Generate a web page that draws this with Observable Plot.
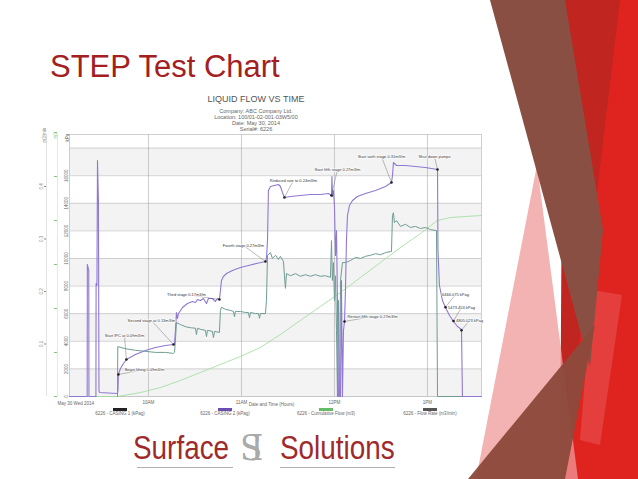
<!DOCTYPE html>
<html><head><meta charset="utf-8">
<script src="https://cdn.jsdelivr.net/npm/d3@7"></script>
<script src="https://cdn.jsdelivr.net/npm/@observablehq/plot@0.6"></script>
<style>
html,body{margin:0;padding:0;background:#fff;}
body{width:638px;height:479px;position:relative;overflow:hidden;font-family:"Liberation Sans",Arial,sans-serif;}
.abs{position:absolute;}
.ctr{position:absolute;text-align:center;white-space:nowrap;}
</style></head><body>

<div class="abs" style="left:50px;top:51px;font-size:31px;line-height:31px;color:#a3201f;white-space:nowrap;">STEP Test Chart</div>

<div class="ctr" style="left:156px;width:200px;top:94.5px;font-size:9px;line-height:9px;color:#555;">LIQUID FLOW VS TIME</div>
<div class="ctr" id="sub" style="left:156px;width:200px;top:109.2px;font-size:5.5px;line-height:5.8px;color:#666;"></div>

<div id="chart" class="abs" style="left:0;top:120px;"></div>
<div id="legend"></div>

<!-- logo -->
<div class="abs" style="left:133px;top:430px;font-size:34px;line-height:34px;color:#9e2a2b;transform:scaleX(0.82);transform-origin:left top;white-space:nowrap;">Surface</div>
<div class="abs" style="left:280px;top:430px;font-size:34px;line-height:34px;color:#9e2a2b;transform:scaleX(0.82);transform-origin:left top;white-space:nowrap;">Solutions</div>
<div class="abs" style="left:240px;top:430px;font-family:'DejaVu Serif',serif;font-size:36px;line-height:36px;letter-spacing:-13px;color:#aaaaaa;white-space:nowrap;transform:scaleX(0.9);transform-origin:left top;">SI</div>
<div class="abs" style="left:137px;top:467px;width:96px;height:1px;background:#b0b0b0;"></div>
<div class="abs" style="left:280px;top:467px;width:115px;height:1px;background:#b0b0b0;"></div>

<!-- decorative slide shapes -->
<div class="abs" style="left:598px;top:0;width:40px;height:479px;background:#dc2520;"></div>
<svg class="abs" style="left:0;top:0;overflow:visible;" width="638" height="479" viewBox="0 0 638 479">
  <path d="M563 0 L638 0 L638 479 L560 479 Z" fill="#c1251f"/>
  <path d="M620 0 L638 0 L638 479 L563 479 Z" fill="#df2420"/>
  <path d="M537 165 L578 479 L476 479 Z" fill="#f09a9a" fill-opacity="0.75"/>
  <path d="M592 290 L622 295 L600 445 L580 440 Z" fill="#f4a0a0" fill-opacity="0.22"/>
  <path d="M490 0 L565 0 L603 230 L590 367 Z" fill="#8a4f43"/>
  <path d="M468 479 L565 479 L595 325 Z" fill="#8d4a3b" fill-opacity="0.96"/>
</svg>

<script>
// ---------- axis / tick data ----------
const kpaTicks = [0, 2000, 4000, 6000, 8000, 10000, 12000, 14000, 16000];
const kpaGrid = [0, 2000, 4000, 6000, 8000, 10000, 12000, 14000, 16000, 18000];
const bandStarts = [0, 4000, 8000, 12000, 16000];
const hourTicks = [10, 11, 12, 13];
const hourLabels = ["10AM", "11AM", "12PM", "1PM"];
const flowTicks = [0.1, 0.2, 0.3, 0.4];
const cumTicks = [0, 5, 10, 15, 20, 25, 30];
const subtitleLines = ["Company:  ABC Company Ltd.", "Location:  100/01-02-001-03W5/00", "Date:  May 30, 2014", "Serial#:  6226"];
const legendNames = ["6226 - CASING 1 (kPag)", "6226 - CASING 2 (kPag)", "6226 - Cumulative Flow (m3)", "6226 - Flow Rate (m3/min)"];
const legendColors = ["#222222", "#6a4fb0", "#66bb66", "#555555"];

// secondary-axis conversions onto the kPa axis
const FLOW_K = 38043;  // kPa per (m3/min)
const CUM_K = 637.7;   // kPa per m3

// ---------- CASING 2 (kPag) ----------
const casing2Time = [9.151,9.341,9.343,9.358,9.360,9.435,9.437,9.446,9.452,9.462,9.468,9.473,9.667,9.672,9.675,9.677,9.699,9.731,9.763,9.860,9.968,10.075,10.183,10.269,10.280,10.290,10.301,10.312,10.323,10.366,10.419,10.473,10.505,10.527,10.559,10.591,10.624,10.645,10.688,10.720,10.742,10.763,10.774,10.785,10.806,10.839,10.903,10.989,11.075,11.161,11.258,11.269,11.280,11.290,11.312,11.355,11.398,11.419,11.441,11.462,11.527,11.634,11.742,11.849,11.935,11.968,11.973,11.978,11.989,12.000,12.011,12.022,12.032,12.043,12.065,12.075,12.086,12.097,12.108,12.118,12.129,12.140,12.161,12.194,12.247,12.333,12.441,12.548,12.613,12.624,12.634,12.667,12.763,12.871,12.978,13.108,13.113,13.129,13.161,13.194,13.237,13.280,13.323,13.366,13.376,13.581];
const casing2Kpa = [0,0,9565,9130,0,0,8188,8043,17101,14202,435,290,217,435,1304,1594,2029,2391,2681,3043,3333,3551,3696,3768,3840,4783,6087,5652,6014,6449,6739,6884,6812,7029,6956,7101,6739,7101,7101,6884,7101,7029,7681,8406,8695,8913,9130,9347,9492,9637,9782,10000,11304,14927,15217,15289,15362,15217,14782,14420,14492,14565,14637,14637,14710,14565,15942,14492,14927,13840,10217,12028,6956,0,0,8406,0,4783,5435,7681,11304,13115,13840,14202,14492,14710,14927,15217,15507,16014,16956,16738,16738,16666,16594,16449,10579,8043,6956,6449,5869,5435,5072,4855,0,0];

// ---------- Flow Rate (m3/min) ----------
const flowTime = [9.667,9.670,9.753,9.860,9.968,10.075,10.183,10.269,10.280,10.290,10.301,10.344,10.398,10.452,10.505,10.516,10.527,10.559,10.613,10.624,10.634,10.688,10.699,10.710,10.763,10.774,10.785,10.828,10.882,10.914,10.925,10.935,10.989,11.043,11.075,11.086,11.097,11.151,11.183,11.194,11.204,11.258,11.269,11.280,11.312,11.333,11.366,11.398,11.419,11.452,11.462,11.473,11.484,11.527,11.581,11.634,11.688,11.742,11.796,11.849,11.903,11.957,11.968,11.978,11.989,12.000,12.011,12.022,12.032,12.043,12.054,12.065,12.086,12.118,12.172,12.226,12.280,12.333,12.387,12.441,12.495,12.548,12.602,12.613,12.624,12.634,12.645,12.667,12.710,12.763,12.817,12.871,12.925,12.978,13.032,13.097,13.108,13.581];
const flowRate = [0,0.095,0.091,0.088,0.086,0.084,0.084,0.082,0.084,0.107,0.141,0.137,0.133,0.131,0.130,0.118,0.130,0.128,0.126,0.114,0.126,0.124,0.112,0.124,0.122,0.164,0.170,0.166,0.164,0.162,0.152,0.162,0.162,0.160,0.160,0.150,0.160,0.158,0.158,0.149,0.158,0.158,0.183,0.269,0.274,0.263,0.269,0.261,0.267,0.257,0.230,0.206,0.234,0.230,0.234,0.229,0.232,0.229,0.232,0.229,0.230,0.227,0.297,0.221,0.255,0.183,0.230,0.126,0,0.183,0,0.221,0.255,0.255,0.259,0.265,0.263,0.267,0.269,0.272,0.270,0.274,0.276,0.276,0.345,0.350,0.331,0.335,0.324,0.328,0.322,0.324,0.320,0.322,0.318,0.316,0,0];

// ---------- Cumulative Flow (m3) ----------
const cumTime = [9.151,9.667,9.914,10.129,10.344,10.559,10.774,10.989,11.204,11.419,11.634,11.849,12.065,12.280,12.495,12.710,12.925,13.108,13.247,13.581];
const cumM3 = [0,0,0.45,1.02,1.82,2.73,3.64,4.55,5.57,7.05,8.64,10.23,11.82,13.52,15.23,16.93,18.52,20.00,20.34,20.57];

// ---------- annotations ----------
const annNames = ["Begin lifting 0.09m3/m","Start IPC at 0.09m3/m","Second stage at 0.13m3/m","Third stage 0.17m3/m","Fourth stage 0.27m3/m","Reduced rate to 0.24m3/m","Start fifth stage 0.27m3/m","Restart fifth stage 0.27m3/m","Start sixth stage 0.31m3/m","Shut down pumps","6466.075 kPag","5473.453 kPag","4805.023 kPag"];
const annTime = [9.677,9.763,10.269,10.763,11.258,11.462,11.968,12.108,12.613,13.108,13.194,13.280,13.366];
const annKpa = [1594,2681,3768,7029,9782,14420,14565,5435,15507,16449,6466,5473,4805];
const annLabelTime = [9.957,9.742,10.032,10.409,11.022,11.559,12.032,12.409,12.505,13.075,13.301,13.366,13.452];
const annLabelKpa = [1956,4420,5507,7391,10942,15652,16449,5797,17391,17391,7391,6449,5507];

// ---------- build tables ----------
const casing2 = casing2Time.map((t, i) => ({t, v: casing2Kpa[i]}));
const flow = flowTime.map((t, i) => ({t, v: flowRate[i] * FLOW_K}));
const cum = cumTime.map((t, i) => ({t, v: cumM3[i] * CUM_K}));
const ann = annNames.map((name, i) => ({name, t: annTime[i], v: annKpa[i], lt: annLabelTime[i], lv: annLabelKpa[i]}));

document.getElementById("sub").innerHTML = subtitleLines.join("<br>");

const xDomain = [9.151, 13.581];
const chart = Plot.plot({
  width: 500, height: 300,
  marginLeft: 69, marginRight: 19, marginTop: 14, marginBottom: 24,
  x: {domain: xDomain},
  y: {domain: [0, 18985]},
  style: {fontFamily: "Liberation Sans, Arial, sans-serif", fontSize: "4.5px", color: "#666", background: "transparent", overflow: "visible"},
  marks: [
    Plot.rect(bandStarts, {y1: d => d, y2: d => d + 2000, fill: "#f3f3f3"}),
    Plot.gridY({ticks: kpaGrid, stroke: "#9a9a9a", strokeOpacity: 0.7, strokeWidth: 0.6}),
    Plot.gridX({ticks: hourTicks, stroke: "#8a8a8a", strokeOpacity: 0.7, strokeWidth: 0.6}),
    Plot.frame({stroke: "#c4c4c4", strokeWidth: 0.8}),
    Plot.line(cum, {x: "t", y: "v", stroke: "#9ddc9d", strokeWidth: 0.8, strokeDasharray: "2,0.6"}),
    Plot.line(flow, {x: "t", y: "v", stroke: "#6f9c94", strokeWidth: 1}),
    Plot.line(casing2, {x: "t", y: "v", stroke: "#9079d2", strokeWidth: 1.1}),
    Plot.link(ann, {x1: "t", y1: "v", x2: "lt", y2: "lv", stroke: "#555", strokeWidth: 0.4}),
    Plot.text(ann, {x: "lt", y: "lv", text: "name", fontSize: 4, fill: "#333", stroke: "white", strokeWidth: 1.2}),
    Plot.dot(ann, {x: "t", y: "v", r: 1.3, fill: "#222", stroke: null}),
    Plot.axisX({ticks: hourTicks, tickFormat: d => hourLabels[hourTicks.indexOf(d)], tickSize: 0, tickPadding: 4, label: null, fontSize: 4.5, color: "#666"}),
    Plot.axisY({ticks: kpaTicks, tickFormat: d => String(d), tickSize: 0, tickPadding: 2, tickRotate: -90, label: null, fontSize: 4.5, color: "#666"}),
    Plot.ruleX([xDomain[0]], {dx: -23, stroke: "#cfcfcf", strokeWidth: 0.6}),
    Plot.axisY({ticks: flowTicks.map(v => v * FLOW_K), tickFormat: d => (d / FLOW_K).toFixed(1), dx: -23, tickSize: 2, tickPadding: 2, tickRotate: -90, label: null, fontSize: 4.5, color: "#888"}),
    Plot.ruleX([xDomain[0]], {dx: -12, stroke: "#bfe8bf", strokeWidth: 0.6}),
    Plot.axisY({ticks: cumTicks.map(v => v * CUM_K), tickFormat: () => "", dx: -12, tickSize: 3, label: null, color: "#7cc87c"}),
    Plot.text(["kPa"], {frameAnchor: "top-left", dx: -4, dy: 7, rotate: -90, fontSize: 4.5, fill: "#666"}),
    Plot.text(["m3/min"], {frameAnchor: "top-left", dx: -27, dy: 8, rotate: -90, fontSize: 4.5, fill: "#888"}),
    Plot.text(["m3"], {frameAnchor: "top-left", dx: -16, dy: 4, rotate: -90, fontSize: 4.5, fill: "#7cc87c"}),
    Plot.text(["May 30 Wed 2014"], {frameAnchor: "bottom-left", dx: -12, dy: 8, fontSize: 4.5, fill: "#666"}),
    Plot.text(["Date and Time (Hours)"], {frameAnchor: "bottom", dx: -4, dy: 9, fontSize: 4.5, fill: "#666"})
  ]
});
document.getElementById("chart").appendChild(chart);

// legend
const legendX = [120, 225, 326, 430];
const lg = document.getElementById("legend");
legendNames.forEach((name, i) => {
  const sw = document.createElement("div");
  sw.className = "abs";
  sw.style.cssText = `left:${legendX[i] - 7}px;top:408px;width:14px;height:2.5px;background:${legendColors[i]};`;
  lg.appendChild(sw);
  const tx = document.createElement("div");
  tx.className = "ctr";
  tx.style.cssText = `left:${legendX[i] - 40}px;width:80px;top:411px;font-size:4.5px;line-height:5px;color:#666;`;
  tx.textContent = name;
  lg.appendChild(tx);
});
</script>
</body></html>
